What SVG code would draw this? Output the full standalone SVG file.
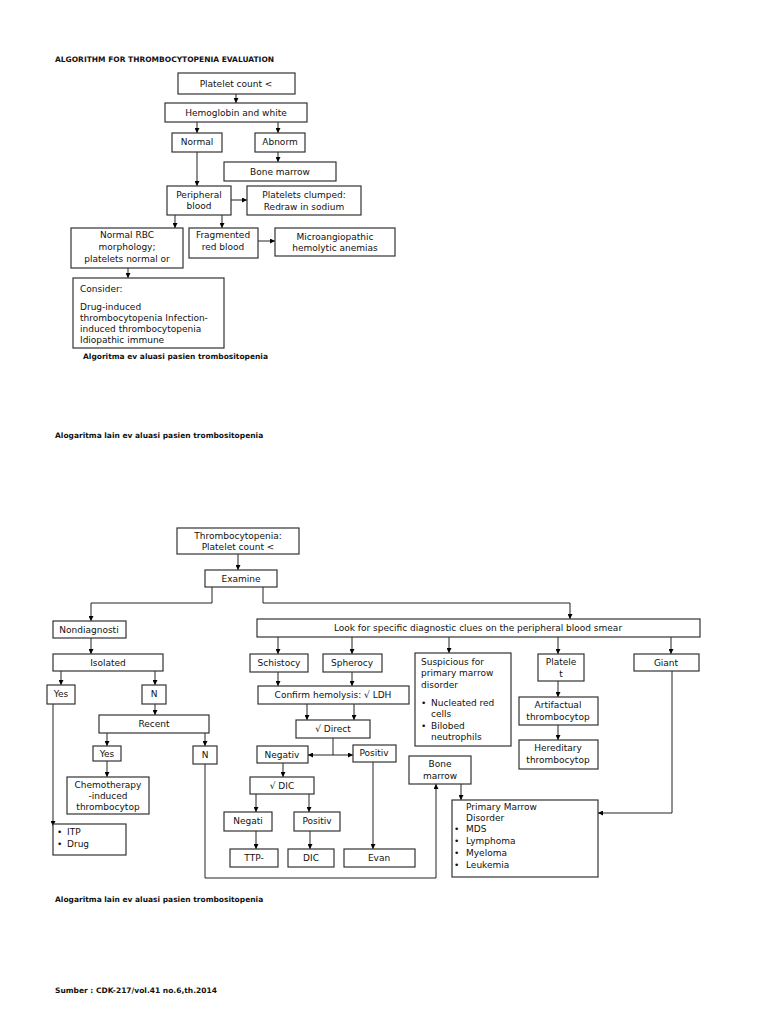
<svg xmlns="http://www.w3.org/2000/svg" width="768" height="1024" viewBox="0 0 768 1024">
<defs>
<marker id="a" viewBox="0 0 6 6" refX="6" refY="3" markerWidth="5" markerHeight="5" orient="auto"><path d="M0,0L6,3L0,6z" fill="#000"/></marker>
</defs>
<style>
rect{fill:#fff;stroke:#333;stroke-width:1.2}
text{font-family:"DejaVu Sans",Verdana,sans-serif;font-size:9px;fill:#111}
.c{text-anchor:middle}
.t{font-size:7.5px;font-weight:bold}
#conn path{fill:none;stroke:#222;stroke-width:1;marker-end:url(#a)}
#conn path.n{marker-end:none}
</style>
<rect x="0" y="0" width="768" height="1024" style="fill:#fff;stroke:none"/>
<text class="t" x="55" y="62">ALGORITHM FOR THROMBOCYTOPENIA EVALUATION</text>
<g id="conn">
<path d="M236,94V103"/>
<path d="M197,122V133"/><path d="M278,122V133"/>
<path d="M278,152V162"/>
<path d="M197,152V186"/>
<path d="M231,200H247"/>
<path d="M175,215V228"/><path d="M222,215V228"/>
<path d="M258,241H275"/>
<path d="M128,268V278"/>
<path d="M238,554V570"/>
<path class="n" d="M212,587V603H91"/><path d="M91,603V621"/>
<path class="n" d="M263,587V603H570"/><path d="M570,603V619"/>
<path d="M91,638V654"/>
<path d="M278,637V654"/><path d="M352,637V654"/><path d="M449,637V653"/><path d="M558,637V654"/><path d="M671,637V654"/>
<path d="M61,671V685"/><path d="M155,671V685"/>
<path d="M155,704V715"/>
<path d="M107,733V746"/><path d="M205,733V746"/>
<path d="M107,761V777"/>
<path d="M53,704V826"/>
<path d="M278,672V686"/><path d="M352,672V686"/>
<path d="M307,704V720"/><path d="M354,704V720"/>
<path class="n" d="M333,738V755"/><path d="M333,755H308"/><path d="M333,755H353"/>
<path d="M283,763V777"/>
<path d="M256,794V812"/><path d="M309,794V812"/>
<path d="M256,831V849"/><path d="M310,831V849"/>
<path d="M373,762V849"/>
<path class="n" d="M205,764V878H436"/><path d="M436,878V784"/>
<path d="M461,784V800"/>
<path d="M558,681V697"/><path d="M558,725V740"/>
<path class="n" d="M672,671V813"/><path d="M672,813H598"/>
</g>
<g id="n1"><rect x="178" y="73" width="117" height="21"/><text class="c" x="236" y="87">Platelet count &lt;</text></g>
<g id="n2"><rect x="165" y="103" width="142" height="19"/><text class="c" x="236" y="116">Hemoglobin and white</text></g>
<g id="n3"><rect x="172" y="133" width="50" height="19"/><text class="c" x="197" y="145">Normal</text></g>
<g id="n4"><rect x="255" y="133" width="50" height="19"/><text class="c" x="280" y="145">Abnorm</text></g>
<g id="n5"><rect x="224" y="162" width="112" height="19"/><text class="c" x="280" y="175">Bone marrow</text></g>
<g id="n6"><rect x="167" y="186" width="64" height="29"/><text class="c" x="199" y="198">Peripheral</text><text class="c" x="199" y="209">blood</text></g>
<g id="n7"><rect x="247" y="186" width="114" height="29"/><text class="c" x="304" y="198">Platelets clumped:</text><text class="c" x="304" y="210">Redraw in sodium</text></g>
<g id="n8"><rect x="71" y="228" width="112" height="40"/><text class="c" x="127" y="238">Normal RBC</text><text class="c" x="127" y="250">morphology;</text><text class="c" x="127" y="262">platelets normal or</text></g>
<g id="n9"><rect x="189" y="228" width="69" height="30"/><text class="c" x="223" y="238">Fragmented</text><text class="c" x="223" y="250">red blood</text></g>
<g id="n10"><rect x="275" y="228" width="120" height="28"/><text class="c" x="335" y="240">Microangiopathic</text><text class="c" x="335" y="251">hemolytic anemias</text></g>
<g id="n11"><rect x="73" y="278" width="151" height="70"/><text x="80" y="292">Consider:</text><text x="80" y="310">Drug-induced</text><text x="80" y="321">thrombocytopenia Infection-</text><text x="80" y="332">induced thrombocytopenia</text><text x="80" y="343">Idiopathic immune</text></g>
<text class="t" x="83" y="359">Algoritma ev aluasi pasien trombositopenia</text>
<text class="t" x="55" y="438">Alogaritma lain ev aluasi pasien trombositopenia</text>
<g id="b1"><rect x="177" y="528" width="122" height="26"/><text class="c" x="238" y="539">Thrombocytopenia:</text><text class="c" x="238" y="550">Platelet count &lt;</text></g>
<g id="b2"><rect x="205" y="570" width="72" height="17"/><text class="c" x="241" y="582">Examine</text></g>
<g id="b3"><rect x="53" y="621" width="73" height="17"/><text class="c" x="89" y="633">Nondiagnosti</text></g>
<g id="b4"><rect x="257" y="619" width="443" height="18"/><text class="c" x="478" y="631">Look for specific diagnostic clues on the peripheral blood smear</text></g>
<g id="b5"><rect x="53" y="654" width="110" height="17"/><text class="c" x="108" y="666">Isolated</text></g>
<g id="b6"><rect x="250" y="654" width="58" height="18"/><text class="c" x="279" y="666">Schistocy</text></g>
<g id="b7"><rect x="323" y="654" width="59" height="18"/><text class="c" x="352" y="666">Spherocy</text></g>
<g id="b8"><rect x="415" y="653" width="96" height="93"/><text x="421" y="665">Suspicious for</text><text x="421" y="676">primary marrow</text><text x="421" y="688">disorder</text><text x="421" y="706">•</text><text x="431" y="706">Nucleated red</text><text x="431" y="717">cells</text><text x="421" y="729">•</text><text x="431" y="729">Bilobed</text><text x="431" y="740">neutrophils</text></g>
<g id="b9"><rect x="538" y="654" width="46" height="27"/><text class="c" x="561" y="665">Platele</text><text class="c" x="561" y="677">t</text></g>
<g id="b10"><rect x="634" y="654" width="65" height="17"/><text class="c" x="666" y="666">Giant</text></g>
<g id="b11"><rect x="47" y="685" width="28" height="19"/><text class="c" x="61" y="697">Yes</text></g>
<g id="b12"><rect x="142" y="685" width="24" height="19"/><text class="c" x="154" y="697">N</text></g>
<g id="b13"><rect x="258" y="686" width="151" height="18"/><text class="c" x="333" y="698">Confirm hemolysis: √ LDH</text></g>
<g id="b14"><rect x="99" y="715" width="110" height="18"/><text class="c" x="154" y="727">Recent</text></g>
<g id="b15"><rect x="296" y="720" width="74" height="18"/><text class="c" x="333" y="732">√ Direct</text></g>
<g id="b16"><rect x="519" y="697" width="79" height="28"/><text class="c" x="558" y="708">Artifactual</text><text class="c" x="558" y="720">thrombocytop</text></g>
<g id="b17"><rect x="519" y="740" width="79" height="29"/><text class="c" x="558" y="751">Hereditary</text><text class="c" x="558" y="763">thrombocytop</text></g>
<g id="b18"><rect x="93" y="746" width="28" height="15"/><text class="c" x="107" y="757">Yes</text></g>
<g id="b19"><rect x="193" y="746" width="24" height="18"/><text class="c" x="205" y="758">N</text></g>
<g id="b20"><rect x="257" y="746" width="51" height="17"/><text class="c" x="282" y="758">Negativ</text></g>
<g id="b21"><rect x="353" y="745" width="43" height="17"/><text class="c" x="374" y="756">Positiv</text></g>
<g id="b22"><rect x="409" y="756" width="62" height="28"/><text class="c" x="440" y="767">Bone</text><text class="c" x="440" y="779">marrow</text></g>
<g id="b23"><rect x="67" y="777" width="82" height="37"/><text class="c" x="108" y="788">Chemotherapy</text><text class="c" x="108" y="799">-induced</text><text class="c" x="108" y="810">thrombocytop</text></g>
<g id="b24"><rect x="250" y="777" width="64" height="17"/><text class="c" x="282" y="789">√ DIC</text></g>
<g id="b25"><rect x="452" y="800" width="146" height="77"/><text x="466" y="810">Primary Marrow</text><text x="466" y="821">Disorder</text><text x="454" y="832">•</text><text x="466" y="832">MDS</text><text x="454" y="844">•</text><text x="466" y="844">Lymphoma</text><text x="454" y="856">•</text><text x="466" y="856">Myeloma</text><text x="454" y="868">•</text><text x="466" y="868">Leukemia</text></g>
<g id="b26"><rect x="53" y="824" width="73" height="31"/><text x="57" y="835">•</text><text x="67" y="835">ITP</text><text x="57" y="847">•</text><text x="67" y="847">Drug</text></g>
<g id="b27"><rect x="224" y="812" width="48" height="19"/><text class="c" x="248" y="824">Negati</text></g>
<g id="b28"><rect x="294" y="812" width="46" height="19"/><text class="c" x="317" y="824">Positiv</text></g>
<g id="b29"><rect x="230" y="849" width="48" height="18"/><text class="c" x="254" y="861">TTP-</text></g>
<g id="b30"><rect x="288" y="849" width="46" height="18"/><text class="c" x="311" y="861">DIC</text></g>
<g id="b31"><rect x="344" y="849" width="71" height="18"/><text class="c" x="379" y="861">Evan</text></g>
<text class="t" x="55" y="902">Alogaritma lain ev aluasi pasien trombositopenia</text>
<text class="t" x="55" y="993">Sumber : CDK-217/vol.41 no.6,th.2014</text>
</svg>
